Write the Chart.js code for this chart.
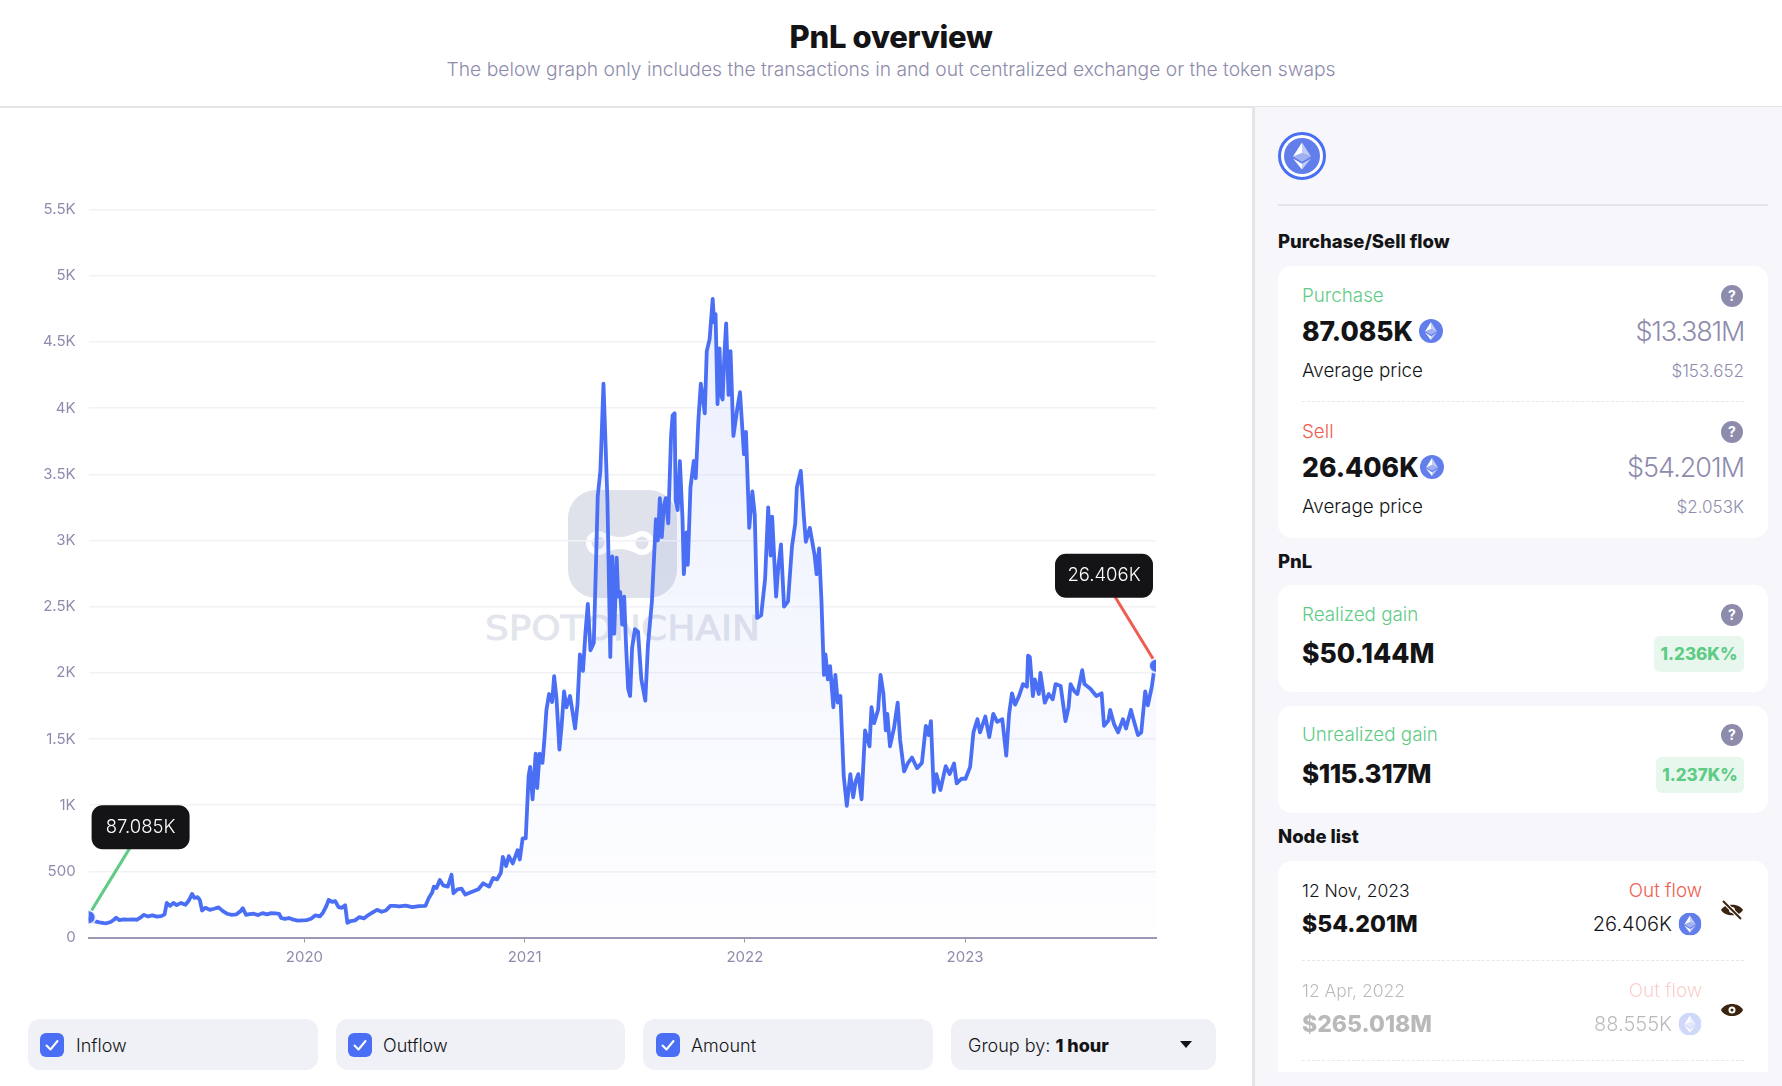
<!DOCTYPE html>
<html>
<head>
<meta charset="utf-8">
<title>PnL overview</title>
<script src="https://cdn.jsdelivr.net/npm/chart.js@4/dist/chart.umd.js"></script>
<style>
  * { box-sizing: border-box; }
  html, body { margin: 0; width: 1782px; height: 1086px; overflow: hidden; background: #fff; font-family: Inter, sans-serif; color: #141416; }
  .abs { position: absolute; white-space: nowrap; line-height: 1; }
  .mid { transform: translateY(-50%); }
  .right { transform: translate(-100%, -50%); }
  #title { left: 0; width: 1782px; top: 36px; text-align: center; font-size: 31px; font-weight: 800; letter-spacing: -0.3px; transform: translateY(-50%); }
  #subtitle { left: 0; width: 1782px; top: 70px; text-align: center; font-size: 19.25px; font-weight: 300; color: #8e8cad; transform: translateY(-50%); }
  #headline { position: absolute; left: 0; top: 106px; width: 1782px; height: 2px; background: #e4e4e8; }
  #panel { position: absolute; left: 1252px; top: 107px; width: 530px; height: 979px; background: #f6f6fb; border-left: 3px solid #e4e4ea; }
  #chartBox { position: absolute; left: 0; top: 108px; }
  #watermark { position: absolute; left: 470px; top: 480px; }
  .card { position: absolute; left: 1278px; width: 490px; background: #fff; border-radius: 14px; }
  .sep { position: absolute; left: 1278px; top: 204px; width: 490px; height: 2px; background: #e4e4ea; }
  .dash { position: absolute; left: 1302px; width: 442px; border-top: 1px dashed #e6e6ec; }
  .head { font-size: 18.5px; font-weight: 800; }
  .green { color: #5fcb85; font-size: 18.8px; font-weight: 300; }
  .red { color: #ef5c50; font-size: 18.8px; font-weight: 300; }
  .big { font-size: 26.5px; font-weight: 800; }
  .muted { color: #8e8cad; font-weight: 300; }
  .text { font-size: 18.8px; font-weight: 300; }
  .q { position: absolute; width: 22px; height: 22px; border-radius: 50%; background: #8e8cad; color: #fff; font-size: 14px; font-weight: 700; text-align: center; line-height: 22px; transform: translate(-50%, -50%); }
  .pill { position: absolute; background: #e8f7ee; color: #5fcb85; border-radius: 6px; font-size: 17px; font-weight: 800; text-align: center; }
  .eth { position: absolute; transform: translate(-50%, -50%); }
  .ctl { position: absolute; top: 1019px; height: 51px; background: #f0f1f7; border-radius: 12px; }
  .box { position: absolute; top: 1033px; width: 24px; height: 24px; border-radius: 6px; background: #4a6ff5; }
  .ctlText { font-size: 18px; font-weight: 300; top: 1046px; }
  #row2 { position: absolute; left: 0; top: 0; opacity: 0.3; }
</style>
</head>
<body>
<svg width="0" height="0" style="position:absolute">
  <symbol id="ethGlyph" viewBox="0 0 24 24">
    <circle cx="12" cy="12" r="12" fill="#627eea"/>
    <path d="M12 3 L12 10 L18 12.4 Z" fill="#fff" fill-opacity=".6"/>
    <path d="M12 3 L6 12.4 L12 10 Z" fill="#fff"/>
    <path d="M12 10 L6 12.4 L12 15.8 L18 12.4 Z" fill="#fff" fill-opacity=".4"/>
    <path d="M12 17.2 L12 21 L18 13.6 Z" fill="#fff" fill-opacity=".6"/>
    <path d="M12 17.2 L6 13.6 L12 21 Z" fill="#fff"/>
  </symbol>
  <symbol id="tick" viewBox="0 0 24 24">
    <path d="M6.5 12.5 L10.5 16.5 L17.5 8" fill="none" stroke="#fff" stroke-width="2" stroke-linecap="round" stroke-linejoin="round"/>
  </symbol>
</svg>

<div id="title" class="abs">PnL overview</div>
<div id="subtitle" class="abs">The below graph only includes the transactions in and out centralized exchange or the token swaps</div>
<div id="headline"></div>

<svg id="watermark" width="300" height="170">
  <rect x="98" y="10" width="109" height="108" rx="28" fill="#dfe2ea"/>
  <path d="M128 53 C140 53 140 57 150 57 C160 57 160 53 172 53 V73 C160 73 160 69 150 69 C140 69 140 73 128 73 Z" fill="#fff"/>
  <circle cx="128" cy="63" r="12" fill="#fff"/>
  <circle cx="172" cy="63" r="12" fill="#fff"/>
  <circle cx="128" cy="63" r="6.5" fill="#dfe2ea"/>
  <circle cx="172" cy="63" r="6.5" fill="#dfe2ea"/>
  <text x="15" y="160" font-family="DejaVu Sans" font-size="34" stroke="#e3e5ed" stroke-width="0.8" textLength="275" lengthAdjust="spacingAndGlyphs" fill="#e3e5ed">SPOTONCHAIN</text>
</svg>
<div id="chartBox"><canvas id="pnlChart" width="1250" height="880"></canvas></div>

<div class="ctl" style="left:28px;width:290px"></div>
<div class="box" style="left:40px"><svg width="24" height="24"><use href="#tick"/></svg></div>
<div class="abs mid ctlText" style="left:76px">Inflow</div>
<div class="ctl" style="left:336px;width:289px"></div>
<div class="box" style="left:348px"><svg width="24" height="24"><use href="#tick"/></svg></div>
<div class="abs mid ctlText" style="left:383px">Outflow</div>
<div class="ctl" style="left:643px;width:290px"></div>
<div class="box" style="left:656px"><svg width="24" height="24"><use href="#tick"/></svg></div>
<div class="abs mid ctlText" style="left:691px">Amount</div>
<div class="ctl" style="left:951px;width:265px"></div>
<div class="abs mid ctlText" style="left:968px">Group by: <b style="font-weight:800">1 hour</b></div>
<svg style="position:absolute;left:1180px;top:1041px" width="12" height="8"><path d="M0 0 H12 L6 7 Z" fill="#141416"/></svg>

<div id="panel"></div>
<svg class="eth" style="left:1302px;top:156px" width="48" height="48">
  <circle cx="24" cy="24" r="22.5" fill="#fff" stroke="#4a6ff5" stroke-width="3"/>
  <use href="#ethGlyph" x="6" y="6" width="36" height="36"/>
</svg>
<div class="sep"></div>

<div class="abs mid head" style="left:1278px;top:241px">Purchase/Sell flow</div>
<div class="card" style="top:266px;height:272px"></div>
<div class="abs mid green" style="left:1302px;top:296px">Purchase</div>
<div class="q" style="left:1732px;top:296px">?</div>
<div class="abs mid big" style="left:1302px;top:331px">87.085K</div>
<svg class="eth" style="left:1431px;top:331px" width="24" height="24"><use href="#ethGlyph"/></svg>
<div class="abs right muted" style="left:1744px;top:331px;font-size:27px;letter-spacing:-1.2px">$13.381M</div>
<div class="abs mid text" style="left:1302px;top:371px">Average price</div>
<div class="abs right muted" style="left:1744px;top:371px;font-size:17px">$153.652</div>
<div class="dash" style="top:401px"></div>
<div class="abs mid red" style="left:1302px;top:432px">Sell</div>
<div class="q" style="left:1732px;top:432px">?</div>
<div class="abs mid big" style="left:1302px;top:467px">26.406K</div>
<svg class="eth" style="left:1432px;top:467px" width="24" height="24"><use href="#ethGlyph"/></svg>
<div class="abs right muted" style="left:1744px;top:467px;font-size:27px;letter-spacing:-1px">$54.201M</div>
<div class="abs mid text" style="left:1302px;top:507px">Average price</div>
<div class="abs right muted" style="left:1744px;top:507px;font-size:17px">$2.053K</div>

<div class="abs mid head" style="left:1278px;top:561px">PnL</div>
<div class="card" style="top:585px;height:107px"></div>
<div class="abs mid green" style="left:1302px;top:615px">Realized gain</div>
<div class="q" style="left:1732px;top:615px">?</div>
<div class="abs mid big" style="left:1302px;top:653px;font-size:26.5px">$50.144M</div>
<div class="pill" style="left:1654px;top:636px;width:90px;height:36px;line-height:36px">1.236K%</div>

<div class="card" style="top:706px;height:107px"></div>
<div class="abs mid green" style="left:1302px;top:735px">Unrealized gain</div>
<div class="q" style="left:1732px;top:735px">?</div>
<div class="abs mid big" style="left:1302px;top:774px;font-size:26px;letter-spacing:-0.5px">$115.317M</div>
<div class="pill" style="left:1656px;top:757px;width:88px;height:36px;line-height:36px">1.237K%</div>

<div class="abs mid head" style="left:1278px;top:836px">Node list</div>
<div class="card" style="top:861px;height:211px;border-radius:14px 14px 0 0"></div>
<div class="abs mid" style="left:1302px;top:891px;font-size:17.5px;font-weight:300">12 Nov, 2023</div>
<div class="abs mid" style="left:1302px;top:924px;font-size:23px;font-weight:800">$54.201M</div>
<div class="abs right red" style="left:1702px;top:891px">Out flow</div>
<div class="abs right" style="left:1672px;top:924px;font-size:20px;font-weight:300">26.406K</div>
<svg class="eth" style="left:1690px;top:924px" width="23" height="23"><use href="#ethGlyph"/></svg>
<svg class="eth" style="left:1732px;top:910px" width="24" height="22" viewBox="0 0 24 22">
  <path d="M1 11 C5 4 19 4 23 11 C19 18 5 18 1 11 Z" fill="#3a2410"/>
  <circle cx="12" cy="11" r="3" fill="#fff"/>
  <path d="M3 2 L21 20" stroke="#fff" stroke-width="4"/>
  <path d="M3 2 L21 20" stroke="#3a2410" stroke-width="2"/>
</svg>
<div class="dash" style="top:960px"></div>
<div id="row2">
  <div class="abs mid" style="left:1302px;top:991px;font-size:17.5px;font-weight:300">12 Apr, 2022</div>
  <div class="abs mid" style="left:1302px;top:1024px;font-size:23px;font-weight:800">$265.018M</div>
  <div class="abs right red" style="left:1702px;top:991px">Out flow</div>
  <div class="abs right" style="left:1672px;top:1024px;font-size:20px;font-weight:300">88.555K</div>
  <svg class="eth" style="left:1690px;top:1024px" width="23" height="23"><use href="#ethGlyph"/></svg>
</div>
<svg class="eth" style="left:1732px;top:1010px" width="24" height="18" viewBox="0 0 24 18">
  <path d="M1 9 C5 1 19 1 23 9 C19 17 5 17 1 9 Z" fill="#3a2410"/>
  <circle cx="12" cy="9" r="3.5" fill="#fff"/>
  <circle cx="12" cy="9" r="1.5" fill="#3a2410"/>
</svg>
<div class="dash" style="top:1060px"></div>

<script>
// ETH price, x as decimal year
const pointTimes = [
  2019.02,2019.03,2019.05,2019.07,2019.09,2019.10,2019.12,2019.135,2019.145,2019.16,
  2019.18,2019.20,2019.22,2019.24,2019.255,2019.27,2019.29,2019.31,2019.33,2019.35,
  2019.365,2019.375,2019.39,2019.405,2019.42,2019.44,2019.46,2019.475,2019.49,2019.50,
  2019.515,2019.525,2019.535,2019.55,2019.57,2019.59,2019.61,2019.63,2019.65,2019.67,
  2019.69,2019.71,2019.72,2019.735,2019.75,2019.77,2019.79,2019.81,2019.83,2019.85,
  2019.87,2019.885,2019.895,2019.91,2019.93,2019.95,2019.97,2019.99,2020.01,2020.03,
  2020.05,2020.07,2020.085,2020.10,2020.11,2020.125,2020.14,2020.155,2020.17,2020.185,
  2020.195,2020.21,2020.23,2020.25,2020.27,2020.29,2020.31,2020.33,2020.35,2020.37,
  2020.39,2020.41,2020.43,2020.46,2020.49,2020.52,2020.55,2020.565,2020.58,2020.588,
  2020.60,2020.615,2020.63,2020.651,2020.668,2020.677,2020.695,2020.713,2020.731,2020.767,
  2020.79,2020.812,2020.839,2020.857,2020.875,2020.892,2020.901,2020.916,2020.928,2020.946,
  2020.968,2020.978,2020.991,2021.005,2021.018,2021.025,2021.036,2021.050,2021.057,2021.068,
  2021.081,2021.09,2021.099,2021.111,2021.125,2021.134,2021.145,2021.158,2021.168,2021.179,
  2021.19,2021.206,2021.218,2021.229,2021.24,2021.251,2021.265,2021.276,2021.287,2021.299,
  2021.314,2021.322,2021.332,2021.344,2021.352,2021.358,2021.367,2021.376,2021.389,2021.398,
  2021.407,2021.418,2021.425,2021.434,2021.443,2021.452,2021.461,2021.470,2021.479,2021.488,
  2021.501,2021.515,2021.530,2021.548,2021.560,2021.578,2021.596,2021.605,2021.614,2021.623,
  2021.632,2021.641,2021.652,2021.665,2021.672,2021.681,2021.686,2021.695,2021.705,2021.717,
  2021.723,2021.735,2021.741,2021.753,2021.768,2021.777,2021.789,2021.800,2021.818,2021.827,
  2021.840,2021.854,2021.860,2021.867,2021.876,2021.885,2021.892,2021.899,2021.907,2021.915,
  2021.926,2021.935,2021.948,2021.966,2021.978,2021.996,2022.005,2022.020,2022.034,2022.045,
  2022.056,2022.074,2022.092,2022.106,2022.117,2022.124,2022.142,2022.151,2022.164,2022.178,
  2022.196,2022.214,2022.229,2022.236,2022.254,2022.268,2022.277,2022.295,2022.317,2022.326,
  2022.337,2022.348,2022.359,2022.366,2022.377,2022.387,2022.402,2022.411,2022.422,2022.434,
  2022.449,2022.463,2022.479,2022.492,2022.503,2022.515,2022.530,2022.546,2022.566,2022.575,
  2022.587,2022.605,2022.616,2022.629,2022.640,2022.647,2022.659,2022.677,2022.694,2022.705,
  2022.723,2022.741,2022.759,2022.782,2022.804,2022.822,2022.834,2022.845,2022.858,2022.870,
  2022.888,2022.912,2022.930,2022.950,2022.962,2022.984,2023.002,2023.023,2023.038,2023.056,
  2023.068,2023.092,2023.110,2023.128,2023.146,2023.169,2023.187,2023.200,2023.213,2023.227,
  2023.245,2023.263,2023.281,2023.286,2023.294,2023.308,2023.317,2023.335,2023.342,2023.362,
  2023.380,2023.398,2023.411,2023.434,2023.456,2023.470,2023.479,2023.497,2023.510,2023.532,
  2023.542,2023.569,2023.596,2023.620,2023.631,2023.651,2023.659,2023.677,2023.695,2023.717,
  2023.731,2023.753,2023.767,2023.785,2023.800,2023.818,2023.830,2023.848,2023.861,2023.867
];
const pointPrices = [
  153,125,122,115,110,108,118,135,150,132,
  138,136,137,135,150,172,160,168,158,162,
  175,262,240,262,245,262,248,280,330,300,
  305,285,205,225,210,218,228,200,180,172,
  175,200,222,172,178,180,170,185,175,185,
  183,180,148,142,148,135,128,130,132,142,
  168,160,190,240,285,270,275,230,225,245,
  112,125,130,155,145,170,190,210,195,205,
  240,240,235,242,230,238,240,300,340,385,
  375,435,395,385,475,335,365,370,325,350,
  365,410,385,450,440,490,610,540,615,560,
  660,590,750,750,1220,1290,1045,1390,1130,1390,
  1320,1500,1720,1840,1780,1975,1800,1420,1600,1860,
  1740,1825,1700,1580,1760,2140,2015,2300,2520,2170,
  2225,2700,3335,3525,3900,4185,3750,3300,2120,2880,
  2295,2870,2575,2610,2365,2575,2190,1880,1825,2190,
  2330,2310,1950,1790,2210,2540,3160,3000,3320,3025,
  3260,3320,3130,3790,3945,3960,3300,3230,3600,3160,
  2745,3060,2815,3400,3600,3470,3910,4185,3960,4430,
  4520,4825,4650,4710,4030,4450,4100,4065,4400,4640,
  4100,4430,3790,4000,4120,3650,3820,3095,3370,3195,
  2415,2435,2710,3250,2885,3180,2575,2780,2970,2500,
  2540,2955,3130,3400,3525,3180,2990,3095,2885,2745,
  2940,2540,1985,2140,1950,2050,1740,1985,1775,1825,
  1220,995,1235,1060,1180,1235,1045,1565,1445,1740,
  1620,1720,1985,1845,1565,1690,1445,1580,1775,1495,
  1255,1320,1360,1280,1320,1600,1530,1635,1100,1235,
  1115,1295,1235,1315,1165,1200,1200,1290,1550,1650,
  1550,1670,1515,1690,1630,1650,1375,1690,1845,1760,
  1825,1915,1895,2130,2120,1825,1950,1840,2000,1775,
  1840,1800,1915,1900,1635,1740,1915,1860,1840,2020,
  1915,1880,1825,1845,1600,1640,1720,1610,1550,1650,
  1580,1720,1635,1530,1550,1860,1755,1895,2050,2053
];
const yearTicks = [2020, 2021, 2022, 2023];
const yTickValues = [0, 500, 1000, 1500, 2000, 2500, 3000, 3500, 4000, 4500, 5000, 5500];
const yTickLabels = ['0', '500', '1K', '1.5K', '2K', '2.5K', '3K', '3.5K', '4K', '4.5K', '5K', '5.5K'];
const xStart = 2019.02;
const xEnd = 2023.867;

const chartPoints = pointTimes.map((t, i) => ({ x: t, y: pointPrices[i] }));
const lastIndex = chartPoints.length - 1;

// callouts: tooltip boxes tied to the first and last point
const calloutsPlugin = {
  id: 'callouts',
  afterDatasetsDraw(chart) {
    const { ctx, scales } = chart;
    const drawCallout = (point, text, color, boxX, boxY, lineX) => {
      const px = scales.x.getPixelForValue(point.x);
      const py = scales.y.getPixelForValue(point.y);
      ctx.save();
      ctx.strokeStyle = color;
      ctx.lineWidth = 3;
      ctx.beginPath();
      ctx.moveTo(px + boxX + lineX, py + boxY + 43);
      ctx.lineTo(px + (boxX > 0 ? 3 : -3), py - 7);
      ctx.stroke();
      ctx.fillStyle = '#141416';
      ctx.beginPath();
      ctx.roundRect(px + boxX, py + boxY, 98, 44, 11);
      ctx.fill();
      ctx.fillStyle = '#fff';
      ctx.font = "300 18.5px Inter";
      ctx.textAlign = 'center';
      ctx.textBaseline = 'middle';
      ctx.fillText(text, px + boxX + 49, py + boxY + 22);
      ctx.restore();
    };
    drawCallout(chartPoints[0], '87.085K', '#5fcb85', 3, -112, 38);
    drawCallout(chartPoints[lastIndex], '26.406K', '#ef5c50', -101, -112, 60);
  }
};

new Chart(document.getElementById('pnlChart'), {
  type: 'line',
  data: {
    datasets: [{
      data: chartPoints,
      borderColor: '#4a6ff5',
      borderWidth: 3.8,
      borderJoinStyle: 'round',
      tension: 0,
      fill: 'origin',
      backgroundColor(context) {
        const area = context.chart.chartArea;
        if (!area) return 'rgba(74,111,245,0.08)';
        const g = context.chart.ctx.createLinearGradient(0, context.chart.scales.y.getPixelForValue(4800), 0, area.bottom);
        g.addColorStop(0, 'rgba(74,111,245,0.11)');
        g.addColorStop(1, 'rgba(74,111,245,0.005)');
        return g;
      },
      pointRadius: ctx => (ctx.dataIndex === 0 || ctx.dataIndex === lastIndex) ? 7 : 0,
      pointBackgroundColor: '#4a6ff5',
      pointBorderColor: 'rgba(255,255,255,0.8)',
      pointBorderWidth: 2
    }]
  },
  plugins: [calloutsPlugin],
  options: {
    responsive: false,
    animation: false,
    layout: { padding: { left: 0, right: 94, top: 101.5, bottom: 0 } },
    plugins: { legend: { display: false }, tooltip: { enabled: false } },
    scales: {
      x: {
        type: 'linear',
        min: xStart,
        max: xEnd,
        afterBuildTicks(axis) { axis.ticks = yearTicks.map(v => ({ value: v })); },
        afterFit(axis) { axis.height = 50.4; },
        grid: { drawOnChartArea: false, drawTicks: true, tickLength: 5, color: '#9a98b5' },
        border: { color: '#9a98b5', width: 2 },
        ticks: {
          autoSkip: false,
          maxRotation: 0,
          padding: 6,
          color: '#8e8cad',
          font: { family: 'Inter', size: 15 },
          callback: v => String(v)
        }
      },
      y: {
        min: 0,
        max: 5500,
        afterBuildTicks(axis) { axis.ticks = yTickValues.map(v => ({ value: v })); },
        afterFit(axis) { axis.width = 88.6; },
        grid: { color: '#f2f2f6', lineWidth: 1.5, drawTicks: false },
        border: { display: false },
        ticks: {
          padding: 13,
          color: '#8e8cad',
          font: { family: 'Inter', size: 15 },
          callback: v => yTickLabels[yTickValues.indexOf(v)]
        }
      }
    }
  }
});
</script>
</body>
</html>
